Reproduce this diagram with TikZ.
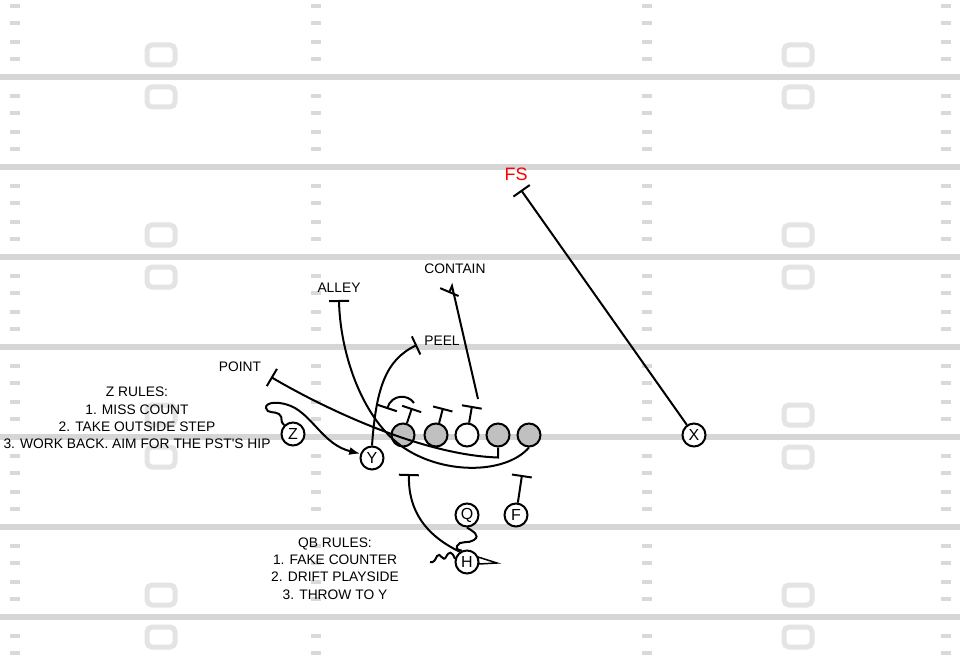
\documentclass[tikz,border=0pt]{standalone}
\usepackage{fontspec}
\setmainfont{Liberation Sans}
\usetikzlibrary{arrows.meta}
\definecolor{fieldline}{HTML}{D6D6D6}
\definecolor{hashc}{HTML}{D9D9D9}
\definecolor{numc}{HTML}{E4E4E4}
\definecolor{olgray}{HTML}{C0C0C0}
\begin{document}
\begin{tikzpicture}[x=1pt,y=-1pt,
  player/.style={circle,draw,line width=2pt,minimum size=23pt,inner sep=0pt,fill=white,font=\fontsize{16}{16}\selectfont},
  lineman/.style={player,fill=olgray},
  route/.style={line width=2pt},
  tbar/.style={route,-{Bar[width=20pt,line width=2pt]}},
  lbl/.style={font=\fontsize{13.8}{16}\selectfont,inner sep=0pt},
  rules/.style={inner sep=0pt,align=center,font=\fontsize{13.8}{17.3}\selectfont},
  yardline/.style={fieldline,line width=6pt},
  hash/.style={hashc,line width=3.5pt},
  numbox/.style={numc,line width=5pt,rounded corners=5pt}
]
\useasboundingbox (0,0) rectangle (960,660);
\clip (0,0) rectangle (960,660);
\fill[white] (0,0) rectangle (960,660);
% field
\foreach \yy in {77,167,...,617} \draw[yardline] (0,\yy) -- (960,\yy);
\foreach \k in {-1,0,...,6}
  \foreach \d in {19,36,55,72}
    \foreach \x in {10,311,642,941}
      \draw[hash] (\x,{77+90*\k+\d}) -- ++(9.5,0);
\foreach \yy in {77,257,437,617}
  \foreach \x in {161,798} {
    \draw[numbox] ({\x-14},{\yy-32}) rectangle ++(28,20);
    \draw[numbox] ({\x-14},{\yy+10}) rectangle ++(28,20);
  }
% players
\node[lineman] (L1) at (403,435) {};
\node[lineman] (L2) at (436,435) {};
\node[player]  (C)  at (467,435) {};
\node[lineman] (L4) at (498,435) {};
\node[lineman] (L5) at (529,435) {};
\node[player] (Z) at (293,434) {Z};
\node[player] (Y) at (372,458) {Y};
\node[player] (X) at (694,435) {X};
\node[player] (Q) at (467,515) {Q};
\node[player] (F) at (516,515) {F};
\node[player] (H) at (467,562) {H};
% labels
\node[lbl,text=red,font=\fontsize{18}{18}\selectfont] (fs) at (516,174) {FS};
\node[lbl] (contain) at (455,269) {CONTAIN};
\node[lbl] (alley) at (339,288) {ALLEY};
\node[lbl] (peel) at (442,341) {PEEL};
\node[lbl] (point) at (240,367) {POINT};
\node[rules] (zrules) at (137,418) {Z RULES:\\1. MISS COUNT\\2. TAKE OUTSIDE STEP\\3. WORK BACK. AIM FOR THE PST\textquotesingle S HIP};
\node[rules] (qbrules) at (335,568.5) {QB RULES:\\1. FAKE COUNTER\\2. DRIFT PLAYSIDE\\3. THROW TO Y};
% route end points
\coordinate (fsT) at (521,190);
\coordinate (t1) at (412,408);
\coordinate (t2) at (443,408);
\coordinate (t3) at (472,406);
\coordinate (dbS) at (414,403);
\coordinate (dbT) at (387,409);
\coordinate (cS) at (478,399);
\coordinate (cTop) at (452,286);
\coordinate (cT) at (449,293);
\coordinate (pointT) at (271,377);
\coordinate (alleyT) at (339,300);
\coordinate (peelT) at (417,345);
\coordinate (fT) at (522,475);
\coordinate (hT) at (409,474);
\coordinate (hW) at (430,562);
% routes
\draw[tbar] (X) -- (fsT);
\draw[tbar] (L1) -- (t1);
\draw[tbar] (L2) -- (t2);
\draw[tbar] (C) -- (t3);
\draw[tbar] (dbS) .. controls (408,394) and (392,394) .. (dbT);
\draw[tbar] (cS) -- (cTop) -- (cT);
\draw[tbar] (L4.south) -- ++(0,10) .. controls (420,455) and (320,406) .. (pointT);
\draw[tbar] (L5.south) .. controls (505,475) and (440,475) .. (400,445) .. controls (360,415) and (340,350) .. (alleyT);
\draw[tbar] (Y.north) .. controls (376,390) and (385,360) .. (peelT);
\draw[route,-{Latex[length=11pt,width=8pt]}] (Z.135) .. controls (279,421) and (284,418) .. (279,414) .. controls (275,411) and (267,414) .. (266,408) .. controls (265,402) and (280,400) .. (295,408) .. controls (315,420) and (325,445) .. (Y.160);
\draw[tbar] (F) -- (fT);
\draw[tbar] (H.125) .. controls (425,535) and (408,510) .. (hT);
\draw[route] (Q.south) .. controls (472,531) and (481,535) .. (474,540) .. controls (469,544) and (459,540) .. (457,546) .. controls (456,549) and (459,551) .. (H.115);
\draw[route] (H.165) .. controls (452,551) and (449,551) .. (446,557) .. controls (443,563) and (440,551) .. (437,556) .. controls (435,560) and (434,563) .. (hW);
\draw[line width=1.5pt,fill=white] (478,557) -- (497,563) -- (479,564) -- cycle;
\end{tikzpicture}
\end{document}
